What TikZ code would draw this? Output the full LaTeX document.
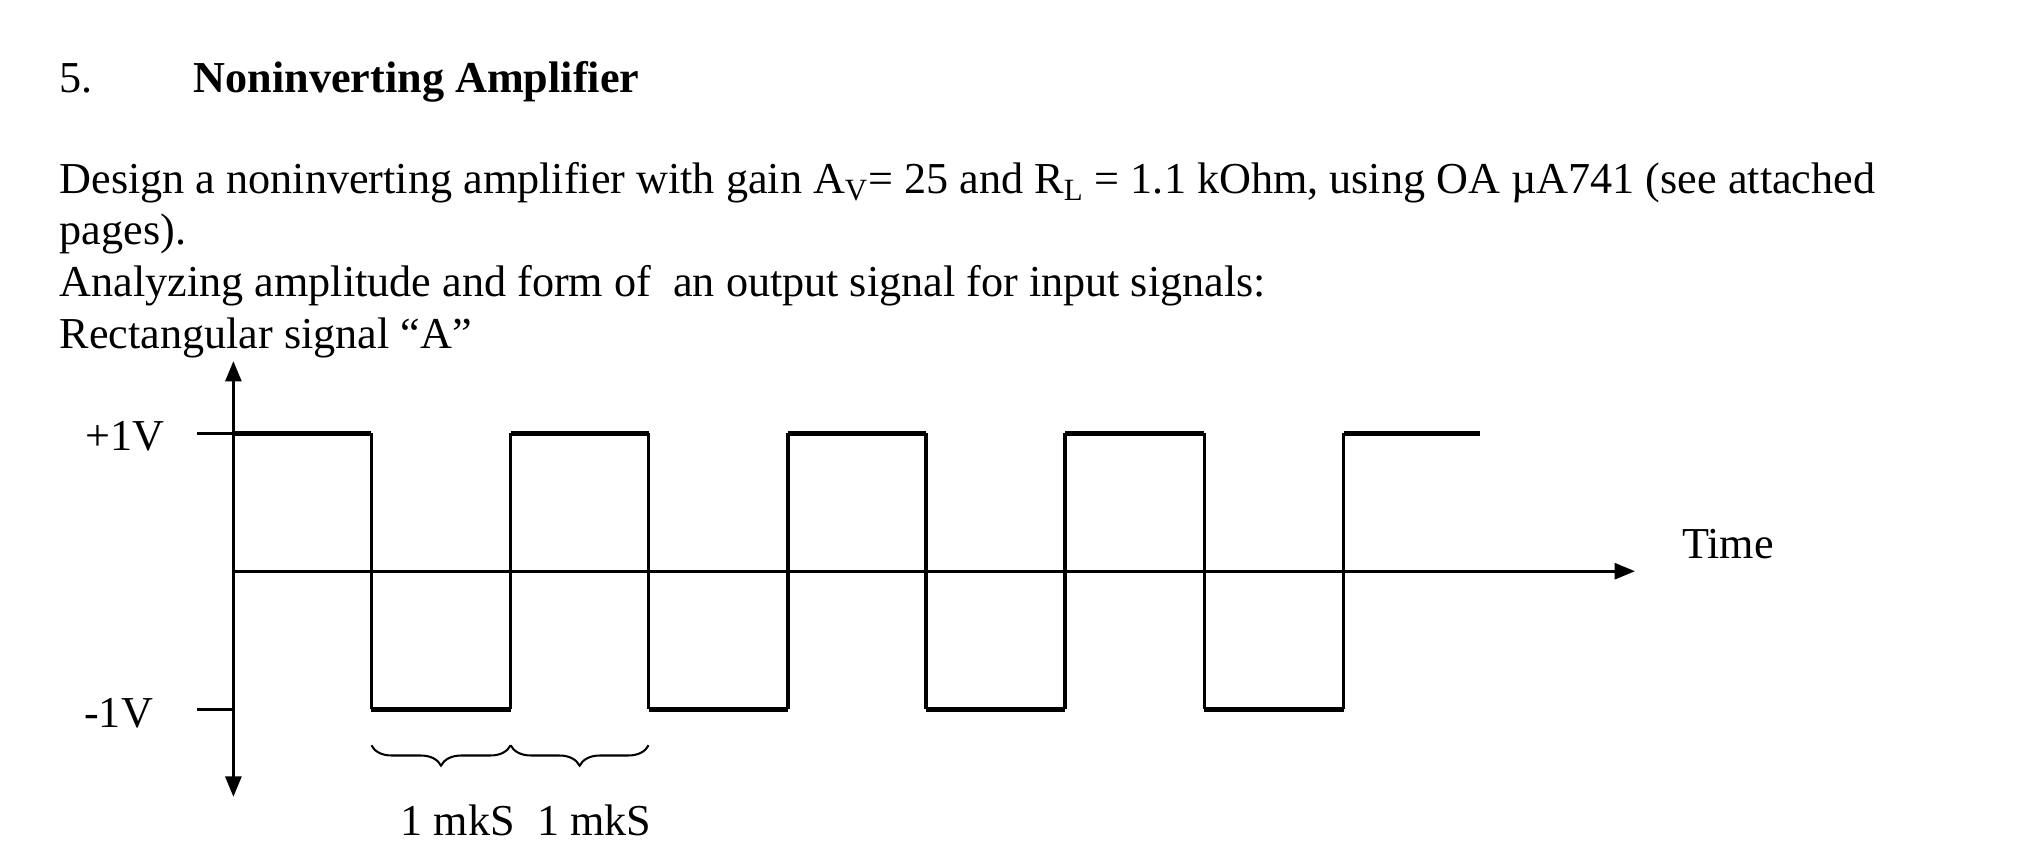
\documentclass[tikz,border=0pt]{standalone}
\usepackage{fontspec}
\setmainfont{Liberation Serif}
\usetikzlibrary{decorations.pathreplacing,arrows.meta}
\begin{document}
\begin{tikzpicture}[x=0.02cm,y=-0.02cm,
  txt/.style={inner sep=0pt,font=\fontsize{19.5}{22}\selectfont},
  axis/.style={line width=1.4pt,-{Triangle[length=9pt,width=7pt]}},
  hi/.style={line width=2.2pt},
  vert/.style={line width=1.5pt}]
\useasboundingbox (0,0) rectangle (1565,661);
\node[txt,anchor=base west] (n5) at (46,72) {5.};
\node[txt,anchor=base west] (ttl) at (150,72) {\bfseries Noninverting Amplifier};
\node[txt,anchor=base west] (l1) at (46,150) {Design a noninverting amplifier with gain A\textsubscript{V}= 25 and R\textsubscript{L} = 1.1 kOhm, using OA µA741 (see attached};
\node[txt,anchor=base west] (l2) at (46,190) {pages).};
\node[txt,anchor=base west] (l3) at (46,230) {Analyzing amplitude and form of\ \ an output signal for input signals:};
\node[txt,anchor=base west] (l4) at (46,270) {Rectangular signal “A”};
% axes
\coordinate (o) at (181,443);
\coordinate (ytop) at (181,280);
\coordinate (ybot) at (181,618);
\coordinate (xend) at (1268,443);
\draw[axis] (o) -- (ytop);
\draw[axis] (o) -- (ybot);
\draw[axis] (o) -- (xend);
\coordinate (tp1) at (153,336); \coordinate (tp2) at (181,336);
\coordinate (tm1) at (153,550); \coordinate (tm2) at (181,550);
\draw[line width=1.2pt] (tp1) -- (tp2);
\draw[line width=1.2pt] (tm1) -- (tm2);
\node[txt] (pv) at (97,338) {+1V};
\node[txt] (mv) at (92,553) {-1V};
\node[txt] (time) at (1340,422) {Time};
% square wave
\foreach \a/\b in {181/288,396/503,611/718,826/934,1042/1148}
  \draw[hi] (\a,336) -- (\b,336);
\foreach \a/\b in {288/396,503/611,718/826,934/1042}
  \draw[hi] (\a,550) -- (\b,550);
\foreach \x in {288,396,503,611,718,826,934,1042}
  \draw[vert] (\x,336) -- (\x,550);
% braces
\coordinate (b1) at (288,578); \coordinate (b2) at (396,578); \coordinate (b3) at (503,578);
\draw[line width=0.9pt,decorate,decoration={brace,mirror,amplitude=9pt}] (b1) -- (b2);
\draw[line width=0.9pt,decorate,decoration={brace,mirror,amplitude=9pt}] (b2) -- (b3);
\node[txt] (m1) at (355,636) {1 mkS};
\node[txt] (m2) at (461,636) {1 mkS};
\end{tikzpicture}
\end{document}
